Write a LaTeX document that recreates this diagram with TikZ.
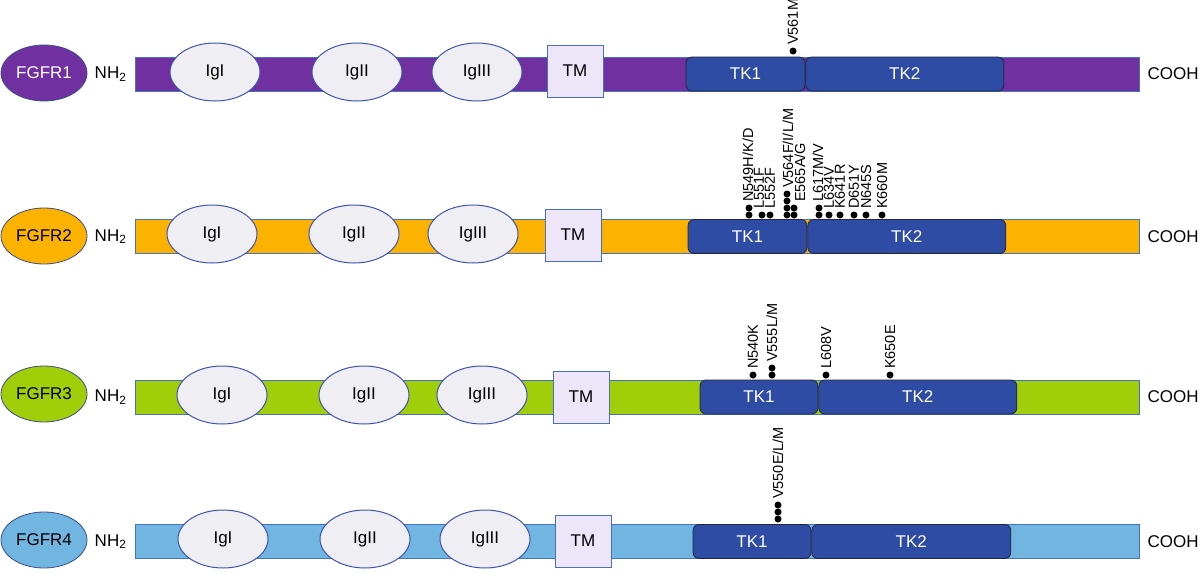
\documentclass[tikz,border=0pt]{standalone}
\usepackage{fontspec}
\setmainfont{Liberation Sans}
\usepackage{tikz}
\usetikzlibrary{shapes.geometric}
\usetikzlibrary{positioning}
\definecolor{rone}{HTML}{7030A0}
\definecolor{rtwo}{HTML}{FBB300}
\definecolor{rthree}{HTML}{A0CF0A}
\definecolor{rfour}{HTML}{70B6E0}
\definecolor{barline}{HTML}{4472C4}
\definecolor{ovalline}{HTML}{3C4C8C}
\definecolor{igfill}{HTML}{EFEEF3}
\definecolor{igline}{HTML}{3F52B0}
\definecolor{tmfill}{HTML}{EDE5F8}
\definecolor{tmline}{HTML}{4A6EC2}
\definecolor{tkfill}{HTML}{2E4CA3}
\definecolor{tkline}{HTML}{22263A}
\tikzstyle{bar}=[rectangle, draw=barline, line width=0.8pt, minimum width=1004pt, minimum height=34pt, inner sep=0pt]
\tikzstyle{fgfr}=[ellipse, draw=ovalline, line width=0.8pt, minimum width=86pt, minimum height=56pt, inner sep=0pt, font=\fontsize{17}{20}\selectfont]
\tikzstyle{ig}=[ellipse, draw=igline, fill=igfill, line width=1pt, minimum width=90pt, minimum height=58pt, inner sep=0pt, font=\fontsize{17}{20}\selectfont]
\tikzstyle{tm}=[rectangle, draw=tmline, fill=tmfill, line width=1pt, minimum width=56pt, minimum height=52pt, inner sep=0pt, font=\fontsize{17}{20}\selectfont]
\tikzstyle{tk}=[rectangle, rounded corners=6pt, draw=tkline, fill=tkfill, line width=0.8pt, text=white, minimum height=34pt, inner sep=0pt, font=\fontsize{17}{20}\selectfont]
\tikzstyle{txt}=[inner sep=0pt, font=\fontsize{17}{20}\selectfont]
\tikzstyle{dot}=[circle, fill=black, minimum size=7pt, inner sep=0pt]
\tikzstyle{mut}=[rotate=90, anchor=west, inner sep=1pt, font=\fontsize{14.5}{16}\selectfont]

\begin{document}
\begin{tikzpicture}[x=1pt, y=-1pt]
    \useasboundingbox (0,0) rectangle (1200,573);

    %FGFR1
    \node[bar, fill=rone] (bar1) at (637,74) {};
    \node[fgfr, fill=rone, text=white] (r1) at (44,73) {FGFR1};
    \node[txt, left=8pt of bar1] (nh1) {NH\textsubscript{2}};
    \node[txt, right=8pt of bar1] (cooh1) {COOH};
    \node[ig] (igI1) at (215,72) {IgI};
    \node[ig] (igII1) at (357,72) {IgII};
    \node[ig] (igIII1) at (477,72) {IgIII};
    \node[tm] (tm1) at (575,71) {TM};
    \node[tk, minimum width=119pt] (tka1) at (745.5,74) {TK1};
    \node[tk, minimum width=198pt, right=0pt of tka1] (tkb1) {TK2};

    %FGFR2
    \node[bar, fill=rtwo] (bar2) at (637,236.5) {};
    \node[fgfr, fill=rtwo] (r2) at (44,236) {FGFR2};
    \node[txt, left=8pt of bar2] (nh2) {NH\textsubscript{2}};
    \node[txt, right=8pt of bar2] (cooh2) {COOH};
    \node[ig] (igI2) at (212,234) {IgI};
    \node[ig] (igII2) at (354,234) {IgII};
    \node[ig] (igIII2) at (473,234) {IgIII};
    \node[tm] (tm2) at (573,235) {TM};
    \node[tk, minimum width=119pt] (tka2) at (747.5,236.5) {TK1};
    \node[tk, minimum width=198pt, right=0pt of tka2] (tkb2) {TK2};

    %FGFR3
    \node[bar, fill=rthree] (bar3) at (637,397) {};
    \node[fgfr, fill=rthree] (r3) at (44,394) {FGFR3};
    \node[txt, left=8pt of bar3] (nh3) {NH\textsubscript{2}};
    \node[txt, right=8pt of bar3] (cooh3) {COOH};
    \node[ig] (igI3) at (222,395) {IgI};
    \node[ig] (igII3) at (364,395) {IgII};
    \node[ig] (igIII3) at (482,395) {IgIII};
    \node[tm] (tm3) at (581,397) {TM};
    \node[tk, minimum width=118pt] (tka3) at (759,397) {TK1};
    \node[tk, minimum width=198pt, right=0pt of tka3] (tkb3) {TK2};

    %FGFR4
    \node[bar, fill=rfour] (bar4) at (637,541.5) {};
    \node[fgfr, fill=rfour] (r4) at (44,540) {FGFR4};
    \node[txt, left=8pt of bar4] (nh4) {NH\textsubscript{2}};
    \node[txt, right=8pt of bar4] (cooh4) {COOH};
    \node[ig] (igI4) at (223,539) {IgI};
    \node[ig] (igII4) at (365,539) {IgII};
    \node[ig] (igIII4) at (485,539) {IgIII};
    \node[tm] (tm4) at (583,541) {TM};
    \node[tk, minimum width=118pt] (tka4) at (752,541.5) {TK1};
    \node[tk, minimum width=199pt, right=0pt of tka4] (tkb4) {TK2};

    %FGFR1 mutations
    \foreach \x/\lx/\n/\lab in {793/793/1/V561M}{
    \foreach \k in {1,...,\n}{\node[dot] (dot1-\x-\k) at (\x,{51-7*(\k-1)}) {};}
    \node[mut] (lab1-\x) at (\lx,{46-7*(\n-1)}) {\lab};
    }

    %FGFR2 mutations
    \foreach \x/\lx/\n/\lab in {749/748/2/{N549H/K/D},762/759/1/L551F,770/770/1/L552F,787/788/4/{V564F/I/L/M},794/800/2/{E565A/G},819/818/2/{L617M/V},829/829/1/L634V,840/840/1/K641R,854/854/1/D651Y,866/866/1/N645S,882/882/1/K660M}{
    \foreach \k in {1,...,\n}{\node[dot] (dot2-\x-\k) at (\x,{215-7*(\k-1)}) {};}
    \node[mut] (lab2-\x) at (\lx,{210-7*(\n-1)}) {\lab};
    }

    %FGFR3 mutations
    \foreach \x/\lx/\n/\lab in {753/753/1/N540K,772/772/2/{V555L/M},826/826/1/L608V,890/890/1/K650E}{
    \foreach \k in {1,...,\n}{\node[dot] (dot3-\x-\k) at (\x,{375-7*(\k-1)}) {};}
    \node[mut] (lab3-\x) at (\lx,{370-7*(\n-1)}) {\lab};
    }

    %FGFR4 mutations
    \foreach \x/\lx/\n/\lab in {778/778/3/{V550E/L/M}}{
    \foreach \k in {1,...,\n}{\node[dot] (dot4-\x-\k) at (\x,{519-7*(\k-1)}) {};}
    \node[mut] (lab4-\x) at (\lx,{514-7*(\n-1)}) {\lab};
    }

\end{tikzpicture}
\end{document}
